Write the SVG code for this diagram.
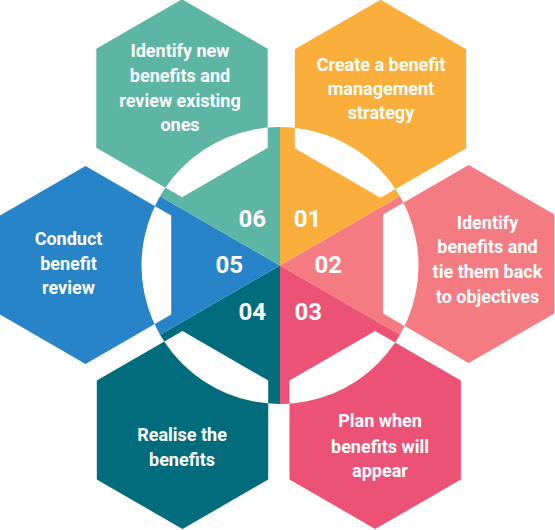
<svg xmlns="http://www.w3.org/2000/svg" width="555" height="530" viewBox="0 0 555 530">
  <style>
    .lbl { font-family: Roboto, "Liberation Sans", Arial, sans-serif; font-weight: 700; font-size: 18px; fill: #ffffff; text-anchor: middle; }
    .num { font-family: Roboto, "Liberation Sans", Arial, sans-serif; font-weight: 700; font-size: 24px; fill: #ffffff; text-anchor: middle; }
    .c1 { fill: #FAAF3C; }
    .c2 { fill: #F57B82; }
    .c3 { fill: #EC5276; }
    .c4 { fill: #006C7C; }
    .c5 { fill: #2784C8; }
    .c6 { fill: #5CB6A3; }
    .ring { fill: #ffffff; }
  </style>
  <defs>
    <clipPath id="circ">
      <circle cx="280" cy="265.5" r="138.5"/>
    </clipPath>
  </defs>
  <rect width="555" height="530" fill="#ffffff"/>

  <g id="hub">
    <path class="c1" d="M280,265.5 L280,127 A138.5,138.5 0 0 1 399.94,196.25 Z"/>
    <path class="c2" d="M280,265.5 L399.94,196.25 A138.5,138.5 0 0 1 399.94,334.75 Z"/>
    <path class="c3" d="M280,265.5 L399.94,334.75 A138.5,138.5 0 0 1 280,404 Z"/>
    <path class="c4" d="M280,265.5 L280,404 A138.5,138.5 0 0 1 160.06,334.75 Z"/>
    <path class="c5" d="M280,265.5 L160.06,334.75 A138.5,138.5 0 0 1 160.06,196.25 Z"/>
    <path class="c6" d="M280,265.5 L160.06,196.25 A138.5,138.5 0 0 1 280,127 Z"/>
  </g>

  <g id="node-06">
    <polygon class="c6" points="182,-0.7 267.7,48.8 267.7,147.8 182,197.3 96.3,147.8 96.3,48.8"/>
    <polygon class="ring" clip-path="url(#circ)" points="182,-0.7 267.7,48.8 267.7,147.8 182,197.3 96.3,147.8 96.3,48.8"/>
    <text class="lbl" x="180" y="57.3">Identify new</text>
    <text class="lbl" x="180" y="82.3">benefits and</text>
    <text class="lbl" x="180" y="106.7">review existing</text>
    <text class="lbl" x="180" y="131">ones</text>
    <text class="num" x="252.3" y="226.7">06</text>
  </g>

  <g id="node-01">
    <polygon class="c1" points="380.5,-0.2 466.2,49.3 466.2,148.3 380.5,197.8 294.8,148.3 294.8,49.3"/>
    <polygon class="ring" clip-path="url(#circ)" points="380.5,-0.2 466.2,49.3 466.2,148.3 380.5,197.8 294.8,148.3 294.8,49.3"/>
    <text class="lbl" x="381" y="70.7">Create a benefit</text>
    <text class="lbl" x="381" y="95">management</text>
    <text class="lbl" x="381" y="119.3">strategy</text>
    <text class="num" x="307.5" y="226.7">01</text>
  </g>

  <g id="node-02">
    <polygon class="c2" points="468.7,165 554.4,214.5 554.4,313.5 468.7,363 383,313.5 383,214.5"/>
    <polygon class="ring" clip-path="url(#circ)" points="468.7,165 554.4,214.5 554.4,313.5 468.7,363 383,313.5 383,214.5"/>
    <text class="lbl" x="487.5" y="229.3">Identify</text>
    <text class="lbl" x="487.5" y="253.3">benefits and</text>
    <text class="lbl" x="487.5" y="278.3">tie them back</text>
    <text class="lbl" x="487.5" y="302.7">to objectives</text>
    <text class="num" x="328.3" y="273.3">02</text>
  </g>

  <g id="node-03">
    <polygon class="c3" points="375.2,331 460.9,380.5 460.9,479.5 375.2,529 289.5,479.5 289.5,380.5"/>
    <polygon class="ring" clip-path="url(#circ)" points="375.2,331 460.9,380.5 460.9,479.5 375.2,529 289.5,479.5 289.5,380.5"/>
    <text class="lbl" x="380" y="427.3">Plan when</text>
    <text class="lbl" x="380" y="452.7">benefits will</text>
    <text class="lbl" x="380" y="476.7">appear</text>
    <text class="num" x="308.3" y="320">03</text>
  </g>

  <g id="node-04">
    <polygon class="c4" points="182.5,331 268.2,380.5 268.2,479.5 182.5,529 96.8,479.5 96.8,380.5"/>
    <polygon class="ring" clip-path="url(#circ)" points="182.5,331 268.2,380.5 268.2,479.5 182.5,529 96.8,479.5 96.8,380.5"/>
    <text class="lbl" x="182" y="440.7">Realise the</text>
    <text class="lbl" x="182" y="465.7">benefits</text>
    <text class="num" x="252.3" y="320">04</text>
  </g>

  <g id="node-05">
    <polygon class="c5" points="85.5,166 171.2,215.5 171.2,314.5 85.5,364 -0.2,314.5 -0.2,215.5"/>
    <polygon class="ring" clip-path="url(#circ)" points="85.5,166 171.2,215.5 171.2,314.5 85.5,364 -0.2,314.5 -0.2,215.5"/>
    <text class="lbl" x="68.5" y="245">Conduct</text>
    <text class="lbl" x="68.5" y="270">benefit</text>
    <text class="lbl" x="68.5" y="294.3">review</text>
    <text class="num" x="229.3" y="273.3">05</text>
  </g>
</svg>
